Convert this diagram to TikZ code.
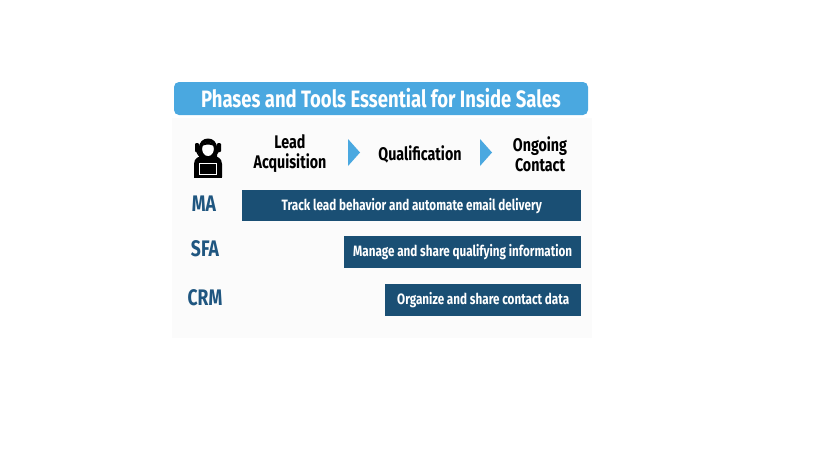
\documentclass[tikz,border=0pt]{standalone}
\usepackage{fontspec}
\setmainfont{Fira Sans}[FakeStretch=0.78]
\begin{document}
\begin{tikzpicture}[x=1pt,y=-1pt,
  bar/.style={fill=barblue,draw=none,anchor=north west,inner sep=0pt,text=white,font=\fontsize{15}{17}\selectfont\bfseries},
  tool/.style={text=toolblue,font=\fontsize{22.5}{24}\selectfont\bfseries},
  phase/.style={align=center,font=\fontsize{18.3}{20}\selectfont\bfseries},
  arr/.style={fill=arrblue,draw=none}]
\definecolor{barblue}{HTML}{1A4F74}
\definecolor{toolblue}{HTML}{1F5680}
\definecolor{arrblue}{HTML}{4AA8E0}
\useasboundingbox (0,0) rectangle (830,474);
\fill[white] (0,0) rectangle (830,474);
\fill[gray!3] (172,118) rectangle (592,338);
\node[fill=arrblue,rounded corners=5pt,minimum width=414pt,minimum height=33pt,text=white,font=\fontsize{23.7}{26}\selectfont\bfseries] (title) at (381,98.5) {Phases and Tools Essential for Inside Sales};
% icon
\begin{scope}[shift={(208,155)}]
  \fill (-14,22) -- (-14,9) .. controls (-14,3) and (-9,1) .. (-5,1) -- (5,1) .. controls (9,1) and (14,3) .. (14,9) -- (14,22) -- cycle;
  \fill (-9,-6) .. controls (-10,-20) and (10,-20) .. (9,-6) -- (9,2) -- (-9,2) -- cycle;
  \fill[white] (0,-6) ellipse (5.8 and 7);
  \fill (-6,-9) .. controls (-3,-15) and (3,-15) .. (6,-9) .. controls (2,-11) and (-2,-11) .. (-6,-9) -- cycle;
  \draw[line width=1.8pt] (-11,-8) arc (180:0:11);
  \fill[rounded corners=1pt] (-13,-12) rectangle (-9,-3);
  \fill[rounded corners=1pt] (9,-12) rectangle (13,-3);
  \draw[line width=1.2pt] (-11,-3) .. controls (-10,2) and (-4,3) .. (0,1.5);
  \fill[white] (-9,8) rectangle (9,20);
  \fill (-8,9) rectangle (8,19);
  \fill (-14,20) rectangle (14,23);
\end{scope}
\node[phase] (lead) at (290,154) {Lead\\Acquisition};
\fill[arr] (348,139) -- (360,152.5) -- (348,166) -- cycle;
\node[phase] (qual) at (420,154) {Qualification};
\fill[arr] (480,139) -- (492,152.5) -- (480,166) -- cycle;
\node[phase] (ong) at (540,154) {Ongoing\\Contact};
\node[tool] (ma) at (204,204) {MA};
\node[tool] (sfa) at (205,249) {SFA};
\node[tool] (crm) at (205,298) {CRM};
\node[bar,minimum width=339pt,minimum height=31pt] (b1) at (242,190) {Track lead behavior and automate email delivery};
\node[bar,minimum width=237pt,minimum height=32pt] (b2) at (344,236) {Manage and share qualifying information};
\node[bar,minimum width=196pt,minimum height=32pt] (b3) at (385,284) {Organize and share contact data};
\end{tikzpicture}
\end{document}
